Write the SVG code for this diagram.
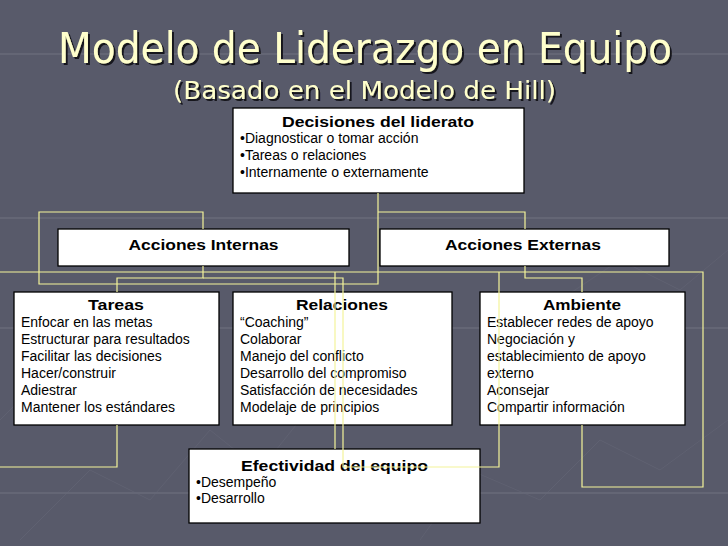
<svg xmlns="http://www.w3.org/2000/svg" width="728" height="546" viewBox="0 0 728 546">
<defs>
<filter id="tshadow" x="-5%" y="-20%" width="110%" height="150%">
<feDropShadow dx="2" dy="2" stdDeviation="0.6" flood-color="#15161c" flood-opacity="1"/>
</filter>
<style>
.bg{fill:#585a6a}
.faint{stroke:#8a8c9a;stroke-width:1;fill:none;opacity:0.5}
.zig{stroke:#666878;stroke-width:1;fill:none;opacity:0.5}
.title{font-family:"DejaVu Sans Condensed","DejaVu Sans",sans-serif;fill:#ffffcc;filter:url(#tshadow)}
.box{fill:#ffffff;stroke:#000000;stroke-width:1.3}
.hd{font-family:"Liberation Sans",Arial,sans-serif;font-weight:bold;font-size:15px;fill:#000;text-anchor:middle}
.bd{font-family:"Liberation Sans",Arial,sans-serif;font-size:14px;fill:#000}
.con{stroke:#f4f49a;stroke-width:1.2;fill:none}
</style>
</defs>
<rect class="bg" x="0" y="0" width="728" height="546"/>
<g id="background-lines">
<line class="faint" x1="0" y1="54" x2="728" y2="54"/>
<line class="faint" x1="0" y1="218" x2="728" y2="218"/>
<line class="faint" x1="0" y1="328" x2="728" y2="328"/>
<line class="faint" x1="0" y1="493" x2="728" y2="493"/>
<polyline class="zig" points="20,540 90,470 150,500 210,430 260,470 300,420"/>
<polyline class="zig" points="420,540 470,470 540,500 600,440 660,470 728,420"/>
<polyline class="zig" points="560,300 620,260 680,290 728,250"/>
<polyline class="zig" points="0,420 40,380 90,410 140,370"/>
</g>
<g id="title">
<text class="title" x="365" y="63" font-size="42" text-anchor="middle" textLength="614" lengthAdjust="spacingAndGlyphs">Modelo de Liderazgo en Equipo</text>
<text class="title" x="364.5" y="99" font-size="25" text-anchor="middle" textLength="383" lengthAdjust="spacingAndGlyphs">(Basado en el Modelo de Hill)</text>
</g>
<g id="decisiones">
<rect class="box" x="233" y="108" width="291" height="85"/>
<text class="hd" x="378" y="127" textLength="192" lengthAdjust="spacingAndGlyphs">Decisiones del liderato</text>
<text class="bd" x="240" y="143">•Diagnosticar o tomar acción</text>
<text class="bd" x="240" y="160">•Tareas o relaciones</text>
<text class="bd" x="240" y="177">•Internamente o externamente</text>
</g>
<g id="acciones-internas">
<rect class="box" x="58" y="229" width="291" height="37"/>
<text class="hd" x="203.5" y="250" textLength="150" lengthAdjust="spacingAndGlyphs">Acciones Internas</text>
</g>
<g id="acciones-externas">
<rect class="box" x="380" y="229" width="289" height="37"/>
<text class="hd" x="523" y="250" textLength="156" lengthAdjust="spacingAndGlyphs">Acciones Externas</text>
</g>
<g id="tareas">
<rect class="box" x="14" y="292" width="205" height="133"/>
<text class="hd" x="116" y="310" textLength="56" lengthAdjust="spacingAndGlyphs">Tareas</text>
<text class="bd" x="21" y="327">Enfocar en las metas</text>
<text class="bd" x="21" y="344">Estructurar para resultados</text>
<text class="bd" x="21" y="361">Facilitar las decisiones</text>
<text class="bd" x="21" y="378">Hacer/construir</text>
<text class="bd" x="21" y="395">Adiestrar</text>
<text class="bd" x="21" y="412">Mantener los estándares</text>
</g>
<g id="relaciones">
<rect class="box" x="233" y="292" width="219" height="133"/>
<text class="hd" x="342" y="310" textLength="92" lengthAdjust="spacingAndGlyphs">Relaciones</text>
<text class="bd" x="240" y="327">“Coaching”</text>
<text class="bd" x="240" y="344">Colaborar</text>
<text class="bd" x="240" y="361">Manejo del conflicto</text>
<text class="bd" x="240" y="378">Desarrollo del compromiso</text>
<text class="bd" x="240" y="395">Satisfacción de necesidades</text>
<text class="bd" x="240" y="412">Modelaje de principios</text>
</g>
<g id="ambiente">
<rect class="box" x="480" y="292" width="205" height="133"/>
<text class="hd" x="582" y="310" textLength="78" lengthAdjust="spacingAndGlyphs">Ambiente</text>
<text class="bd" x="487" y="327">Establecer redes de apoyo</text>
<text class="bd" x="487" y="344">Negociación y</text>
<text class="bd" x="487" y="361">establecimiento de apoyo</text>
<text class="bd" x="487" y="378">externo</text>
<text class="bd" x="487" y="395">Aconsejar</text>
<text class="bd" x="487" y="412">Compartir información</text>
</g>
<g id="efectividad">
<rect class="box" x="189" y="449" width="291" height="74"/>
<text class="hd" x="334.5" y="471" textLength="187" lengthAdjust="spacingAndGlyphs">Efectividad del equipo</text>
<text class="bd" x="196" y="487">•Desempeño</text>
<text class="bd" x="196" y="503">•Desarrollo</text>
</g>
<g id="connectors">
<path class="con" d="M378,193 V284 H39 V212 H203 V229"/>
<path class="con" d="M378,212 H525 V229"/>
<path class="con" d="M203,266 V278 H117 V292"/>
<path class="con" d="M203,278 H343 V467 H499 V272"/>
<path class="con" d="M0,272 H703 V487 H582 V425"/>
<path class="con" d="M335,272 V449"/>
<path class="con" d="M117,425 V467 H0"/>
<path class="con" d="M525,266 V278 H582 V292"/>
</g>
</svg>
